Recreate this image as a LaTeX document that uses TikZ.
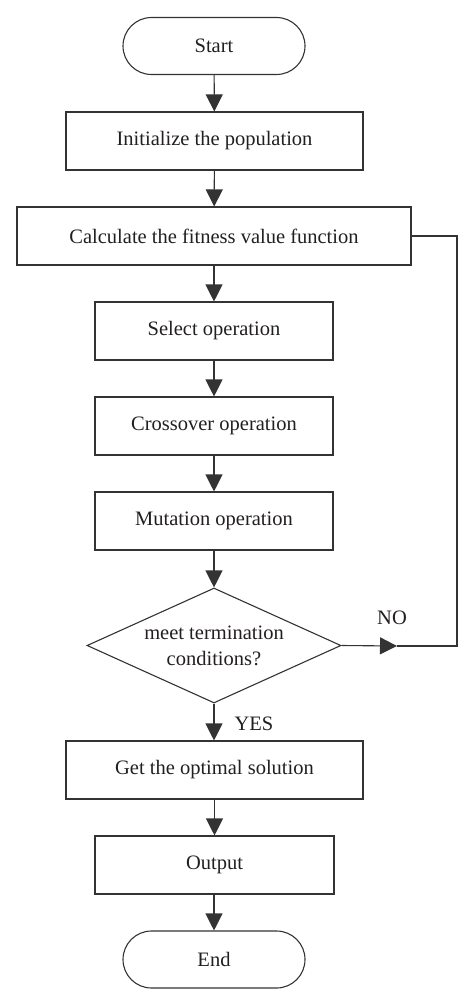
\documentclass[tikz,border=0pt]{standalone}
\usepackage{fontspec}
\setmainfont{Liberation Serif}
\usetikzlibrary{shapes.geometric,arrows.meta}
\definecolor{ln}{HTML}{333333}
\definecolor{tx}{HTML}{231F20}
\begin{document}
\begin{tikzpicture}[x=1pt,y=-1pt,
  every node/.style={font=\fontsize{20.5}{26}\selectfont, text=tx},
  box/.style={draw=ln, line width=1.1pt, rectangle, minimum height=58pt, inner sep=0pt},
  term/.style={draw=ln, line width=1.1pt, rectangle, rounded corners=28.5pt, minimum width=182pt, minimum height=57pt, inner sep=0pt},
  decision/.style={draw=ln, line width=1.1pt, diamond, aspect=2.2, minimum width=254pt, minimum height=115pt, inner sep=0pt, align=center},
  flow/.style={draw=ln, line width=1.1pt, -{Triangle[length=17pt,width=17pt]}},
  plain/.style={draw=ln, line width=1.1pt},
  lbl/.style={font=\fontsize{20.5}{24}\selectfont}
]
\useasboundingbox (0,0) rectangle (474,1006);
\fill[white] (0,0) rectangle (474,1006);

\node[term] (start) at (214,46) {Start};
\node[box, minimum width=297pt] (init) at (214.5,141) {Initialize the population};
\node[box, minimum width=394pt] (calc) at (214,236) {Calculate the fitness value function};
\node[box, minimum width=238pt] (sel) at (214,331) {Select operation};
\node[box, minimum width=238pt] (cross) at (214,426) {Crossover operation};
\node[box, minimum width=238pt] (mut) at (214,521) {Mutation operation};
\node[decision] (dec) at (214,645.5) {meet termination\\conditions?};
\node[box, minimum width=297pt] (get) at (214.5,770) {Get the optimal solution};
\node[box, minimum width=239pt] (out) at (214.5,865) {Output};
\node[term] (end) at (214,959.5) {End};

\node[lbl] (no) at (392,618) {NO};
\node[lbl] (yes) at (254,724) {YES};

\coordinate (nomid) at (397,646);
\coordinate (loopb) at (457,646);

\draw[flow] (start) -- (init);
\draw[flow] (init) -- (calc);
\draw[flow] (calc.south -| sel.north) -- (sel);
\draw[flow] (sel) -- (cross);
\draw[flow] (cross) -- (mut);
\draw[flow] (mut) -- (dec);
\draw[flow] (dec) -- (dec.south |- get.north);
\draw[flow] (get.south -| out.north) -- (out);
\draw[flow] (out.south -| end.north) -- (end);

\draw[flow] (dec.east) -- (nomid);
\draw[plain] (nomid) -- (loopb) |- (calc.east);
\end{tikzpicture}
\end{document}
